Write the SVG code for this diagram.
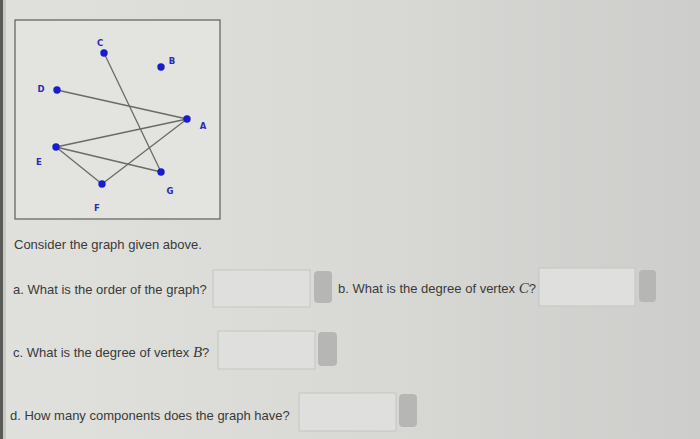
<svg xmlns="http://www.w3.org/2000/svg" width="700" height="439" viewBox="0 0 700 439">
<defs>
<linearGradient id="bg" x1="0" y1="0" x2="1" y2="0">
<stop offset="0" stop-color="#e0e1dd"/>
<stop offset="0.5" stop-color="#d9dad6"/>
<stop offset="1" stop-color="#cdcecb"/>
</linearGradient>
<style>
.lbl{font-family:"DejaVu Sans",sans-serif;font-size:8.5px;font-weight:bold;fill:#2a2ab8;text-anchor:middle;dominant-baseline:central}
.node{fill:#1a1ad0}
.edge{stroke:#6b6b66;stroke-width:1.3;fill:none}
.q{font-family:"Liberation Sans",Arial,sans-serif;font-size:13px;fill:#3a3a3a;dominant-baseline:central}
.m{font-family:"Liberation Serif","Times New Roman",serif;font-style:italic;font-size:15px}
.box{fill:#dfe0dd;stroke:#c4c5c2;stroke-width:1}
.btn{fill:#b6b7b4}
</style>
</defs>
<rect x="0" y="0" width="700" height="439" fill="url(#bg)"/>
<rect x="0" y="0" width="3" height="439" fill="#5a5a58"/>
<rect x="3" y="0" width="3" height="439" fill="#c8c8c4"/>
<rect id="frame" x="15" y="20" width="205" height="199" fill="#e3e3df" stroke="#5e5e5c" stroke-width="1.2"/>
<g id="connectors">
<line class="edge" x1="104" y1="53" x2="161" y2="172"/>
<line class="edge" x1="57" y1="90" x2="187" y2="119"/>
<line class="edge" x1="187" y1="119" x2="56" y2="147"/>
<line class="edge" x1="187" y1="119" x2="102" y2="184"/>
<line class="edge" x1="56" y1="147" x2="161" y2="172"/>
<line class="edge" x1="56" y1="147" x2="102" y2="184"/>
</g>
<g id="node-C"><circle class="node" cx="104" cy="53" r="3.7"/><text class="lbl" x="100" y="43">C</text></g>
<g id="node-B"><circle class="node" cx="161" cy="67" r="3.7"/><text class="lbl" x="172" y="61">B</text></g>
<g id="node-D"><circle class="node" cx="57" cy="90" r="3.7"/><text class="lbl" x="41" y="89">D</text></g>
<g id="node-A"><circle class="node" cx="187" cy="119" r="3.7"/><text class="lbl" x="203" y="126">A</text></g>
<g id="node-E"><circle class="node" cx="56" cy="147" r="3.7"/><text class="lbl" x="39" y="162">E</text></g>
<g id="node-G"><circle class="node" cx="161" cy="172" r="3.7"/><text class="lbl" x="170" y="191">G</text></g>
<g id="node-F"><circle class="node" cx="102" cy="184" r="3.7"/><text class="lbl" x="97" y="208">F</text></g>
<text class="q" x="14" y="244">Consider the graph given above.</text>
<g id="qa">
<text class="q" x="13" y="289">a. What is the order of the graph?</text>
<rect class="box" x="213" y="270" width="97" height="37"/>
<rect class="btn" x="314" y="271" width="18" height="32" rx="4"/>
</g>
<g id="qb">
<text class="q" x="338" y="288">b. What is the degree of vertex <tspan class="m">C</tspan>?</text>
<rect class="box" x="539" y="268" width="96" height="38"/>
<rect class="btn" x="639" y="270" width="17" height="32" rx="4"/>
</g>
<g id="qc">
<text class="q" x="13" y="352">c. What is the degree of vertex <tspan class="m">B</tspan>?</text>
<rect class="box" x="218" y="331" width="97" height="38"/>
<rect class="btn" x="318" y="332" width="19" height="34" rx="4"/>
</g>
<g id="qd">
<text class="q" x="10" y="415">d. How many components does the graph have?</text>
<rect class="box" x="299" y="393" width="97" height="38"/>
<rect class="btn" x="399" y="394" width="18" height="33" rx="4"/>
</g>
</svg>
